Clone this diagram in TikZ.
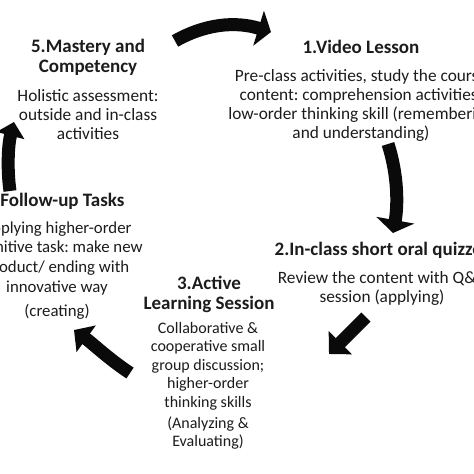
\documentclass[tikz,border=0pt]{standalone}
\usepackage{fontspec}
\setmainfont{Carlito}
\usetikzlibrary{arrows.meta}
\definecolor{ink}{HTML}{1C1C1C}
\definecolor{arr}{HTML}{0A0A0A}
\newcommand{\stack}[1]{\begin{tabular}[t]{@{}c@{}}#1\end{tabular}}
\frenchspacing
\begin{document}
\frenchspacing
\begin{tikzpicture}[x=1pt,y=-1pt,
  ttl/.style={inner sep=0pt, anchor=base, text=ink, font=\bfseries\fontsize{19}{20}\selectfont},
  bdy/.style={inner sep=0pt, anchor=base, text=ink, font=\fontsize{17.3}{19}\selectfont},
  blk/.style={line width=13pt, draw=arr, line cap=butt}]
\clip (0,0) rectangle (474,474);
\fill[white] (0,0) rectangle (474,474);

% block 5
\node[ttl] (t5) at (88,52) {\stack{5.Mastery and\\Competency}};
\node[bdy] (b5) at (88,101) {\stack{Holistic assessment:\\outside and in-class\\activities}};
% block 1
\node[ttl] (t1) at (361,53) {\stack{1.Video Lesson}};
\node[bdy] (b1) at (361,81) {\stack{Pre-class activities, study the course\\content: comprehension activities;\\low-order thinking skill (remembering\\and understanding)}};
% block 2
\node[ttl] (t2) at (382,255) {\stack{2.In-class short oral quizzes}};
\node[bdy] (b2) at (382,283) {\stack{Review the content with Q\&A\\session (applying)}};
% block 3
\node[ttl] (t3) at (209,289) {\stack{3.Active\\Learning Session}};
\node[bdy, font=\fontsize{16}{18.5}\selectfont] (b3) at (208,333) {\stack{Collaborative \&\\cooperative small\\group discussion;\\higher-order\\thinking skills\\[2.5pt](Analyzing \&\\Evaluating)}};
% block 4
\node[ttl] (t4) at (55,206) {\stack{4.Follow-up Tasks}};
\node[bdy, font=\fontsize{16.8}{19.7}\selectfont] (b4) at (57,233) {\stack{Applying higher-order\\cognitive task: make new\\product/ ending with\\innovative way\\[5pt](creating)}};

% arrows
\coordinate (a1s) at (175,41);  \coordinate (a1e) at (271,32);
\coordinate (a2s) at (388,144); \coordinate (a2e) at (393,233);
\coordinate (a3s) at (366,317); \coordinate (a3e) at (329,354);
\coordinate (a4s) at (130,373); \coordinate (a4e) at (74,330);
\coordinate (a5s) at (10,191);  \coordinate (a5e) at (14,122);

\draw[blk, -{Triangle[length=13pt,width=36pt]}] (a1s) .. controls (205,24) and (235,21) .. (a1e);
\draw[blk, -{Triangle[length=13pt,width=38pt]}] (a2s) .. controls (398,175) and (398,205) .. (a2e);
\draw[blk, -{Triangle[length=16pt,width=32pt]}] (a3s) -- (a3e);
\draw[blk, -{Triangle[length=15pt,width=32pt]}] (a4s) .. controls (110,360) and (92,343) .. (a4e);
\draw[blk, -{Triangle[length=14pt,width=28pt]}] (a5s) .. controls (7,170) and (8,145) .. (a5e);
\end{tikzpicture}
\end{document}
